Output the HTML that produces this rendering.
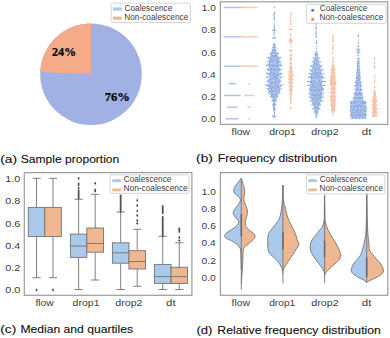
<!DOCTYPE html><html><head><meta charset="utf-8"><style>html,body{margin:0;padding:0;background:#fff;overflow:hidden}svg{display:block}</style></head><body>
<svg width="390" height="338" viewBox="0 0 390 338">
<rect width="390" height="338" fill="#fff"/>
<circle cx="91.0" cy="74.2" r="50.8" fill="#a2b1e4"/>
<path d="M91.0,74.2 L91.0,23.4 A50.8,50.8 0 0 0 40.24,72.07 Z" fill="#f5ab8a"/>
<text x="51.97" y="55.5" font-size="11.91" fill="#000" font-weight="bold" font-family='"Liberation Serif", serif' textLength="24.26" lengthAdjust="spacingAndGlyphs" stroke="#000" stroke-width="0.22">24%</text>
<text x="104.69" y="101.1" font-size="12.06" fill="#000" font-weight="bold" font-family='"Liberation Serif", serif' textLength="25.19" lengthAdjust="spacingAndGlyphs" stroke="#000" stroke-width="0.22">76%</text>
<rect x="111.1" y="3.1" width="79.3" height="19.5" fill="#fff" fill-opacity="0.85" stroke="#cfcfcf" stroke-width="0.9" rx="1.2"/>
<rect x="113.1" y="7.4" width="8.7" height="3.2" fill="#abc9ea"/>
<rect x="113.1" y="16.6" width="8.7" height="3.1" fill="#efb792"/>
<text x="124.49" y="10.6" font-size="8.3" fill="#3c3c3c" font-weight="normal" font-family='"Liberation Sans", sans-serif' textLength="47.86" lengthAdjust="spacingAndGlyphs">Coalescence</text>
<text x="124.21" y="19.5" font-size="8.3" fill="#3c3c3c" font-weight="normal" font-family='"Liberation Sans", sans-serif' textLength="64.15" lengthAdjust="spacingAndGlyphs">Non-coalescence</text>
<text x="0.28" y="162.7" font-size="11.8" fill="#111" font-weight="normal" font-family='"Liberation Sans", sans-serif' textLength="16.77" lengthAdjust="spacingAndGlyphs" stroke="#111" stroke-width="0.12">(a)</text>
<text x="20.84" y="162.7" font-size="11.8" fill="#111" font-weight="normal" font-family='"Liberation Sans", sans-serif' textLength="98.44" lengthAdjust="spacingAndGlyphs" stroke="#111" stroke-width="0.12">Sample proportion</text>
<rect x="220.4" y="1.8" width="167.4" height="122.6" fill="none" stroke="#9c9c9c" stroke-width="1.2"/>
<text x="201.59" y="122.35" font-size="9.47" fill="#3c3c3c" font-weight="normal" font-family='"Liberation Sans", sans-serif' textLength="14.22" lengthAdjust="spacingAndGlyphs">0.0</text>
<text x="201.59" y="100.13" font-size="9.47" fill="#3c3c3c" font-weight="normal" font-family='"Liberation Sans", sans-serif' textLength="14.33" lengthAdjust="spacingAndGlyphs">0.2</text>
<text x="201.59" y="77.91" font-size="9.47" fill="#3c3c3c" font-weight="normal" font-family='"Liberation Sans", sans-serif' textLength="14.11" lengthAdjust="spacingAndGlyphs">0.4</text>
<text x="201.59" y="55.69" font-size="9.47" fill="#3c3c3c" font-weight="normal" font-family='"Liberation Sans", sans-serif' textLength="14.26" lengthAdjust="spacingAndGlyphs">0.6</text>
<text x="201.59" y="33.47" font-size="9.47" fill="#3c3c3c" font-weight="normal" font-family='"Liberation Sans", sans-serif' textLength="14.26" lengthAdjust="spacingAndGlyphs">0.8</text>
<text x="201.72" y="11.25" font-size="9.47" fill="#3c3c3c" font-weight="normal" font-family='"Liberation Sans", sans-serif' textLength="14.08" lengthAdjust="spacingAndGlyphs">1.0</text>
<text x="231.56" y="134.8" font-size="9.68" fill="#3c3c3c" font-weight="normal" font-family='"Liberation Sans", sans-serif' textLength="18.52" lengthAdjust="spacingAndGlyphs">flow</text>
<text x="269.15" y="134.8" font-size="9.68" fill="#3c3c3c" font-weight="normal" font-family='"Liberation Sans", sans-serif' textLength="26.68" lengthAdjust="spacingAndGlyphs">drop1</text>
<text x="311.24" y="134.8" font-size="9.68" fill="#3c3c3c" font-weight="normal" font-family='"Liberation Sans", sans-serif' textLength="27.41" lengthAdjust="spacingAndGlyphs">drop2</text>
<text x="361.8" y="134.8" font-size="9.68" fill="#3c3c3c" font-weight="normal" font-family='"Liberation Sans", sans-serif' textLength="9.58" lengthAdjust="spacingAndGlyphs">dt</text>
<text x="196.14" y="162" font-size="11.8" fill="#111" font-weight="normal" font-family='"Liberation Sans", sans-serif' textLength="16.61" lengthAdjust="spacingAndGlyphs" stroke="#111" stroke-width="0.12">(b)</text>
<text x="217.79" y="162" font-size="11.8" fill="#111" font-weight="normal" font-family='"Liberation Sans", sans-serif' textLength="119.2" lengthAdjust="spacingAndGlyphs" stroke="#111" stroke-width="0.12">Frequency distribution</text>
<rect x="223.6" y="6.8" width="17.4" height="1.4" fill="#4878d0" opacity="0.45"/>
<rect x="241.0" y="6.8" width="16.5" height="1.4" fill="#ee854a" opacity="0.45"/>
<rect x="223.6" y="36.1" width="17.4" height="1.4" fill="#4878d0" opacity="0.45"/>
<rect x="241.0" y="36.1" width="16.5" height="1.4" fill="#ee854a" opacity="0.45"/>
<rect x="223.9" y="65.5" width="16.9" height="1.4" fill="#4878d0" opacity="0.45"/>
<rect x="240.8" y="65.5" width="17" height="1.4" fill="#ee854a" opacity="0.45"/>
<rect x="228.7" y="83" width="7.7" height="1.4" fill="#4878d0" opacity="0.45"/>
<rect x="247.9" y="83" width="2" height="1.4" fill="#ee854a" opacity="0.45"/>
<rect x="223.9" y="94.8" width="16.9" height="1.4" fill="#4878d0" opacity="0.45"/>
<rect x="244.1" y="94.8" width="10.2" height="1.4" fill="#ee854a" opacity="0.45"/>
<rect x="227.3" y="106.5" width="10.4" height="1.4" fill="#4878d0" opacity="0.45"/>
<rect x="247.4" y="106.5" width="3.4" height="1.4" fill="#ee854a" opacity="0.45"/>
<rect x="225.8" y="118.1" width="12.5" height="1.4" fill="#4878d0" opacity="0.45"/>
<rect x="247.9" y="118.1" width="2" height="1.4" fill="#ee854a" opacity="0.45"/>
<path d="M274.35,7.18h0M274.18,12.47h0M274.44,13.27h0M274.05,14.83h0M273.91,15.93h0M274.45,17.56h0M274.38,18.48h0M273.98,19.7h0M274.03,22.89h0M274.48,25.22h0M274.02,26.76h0M274.48,28.04h0M274.12,28.9h0M272.8,30.34h0M274.2,30.43h0M275.6,30.25h0M274.09,31.89h0M274.19,33.12h0M273.91,34.45h0M274.12,36.95h0M272.8,38.1h0M274.2,38.34h0M275.6,38.11h0M274.17,43.41h0M273.41,44.77h0M274.97,44.81h0M273.61,45.88h0M274.86,46.03h0M272.76,47.43h0M274.21,47.24h0M275.56,47.2h0M273.42,48.66h0M275.02,48.5h0M272.22,49.91h0M273.48,49.82h0M274.92,50h0M276.29,49.88h0M272.9,51.06h0M274.2,51.3h0M275.51,51.27h0M271.43,52.59h0M272.71,52.48h0M274.12,52.6h0M275.55,52.49h0M277.12,52.61h0M269.99,53.8h0M271.46,53.79h0M272.75,53.77h0M274.12,53.76h0M275.72,53.94h0M277.03,53.8h0M278.36,53.68h0M271.47,55.21h0M272.77,55.19h0M274.27,55.16h0M275.64,55.18h0M276.97,55.16h0M270.7,56.48h0M272.15,56.34h0M273.61,56.44h0M274.92,56.25h0M276.31,56.33h0M277.74,56.39h0M267.94,57.79h0M269.26,57.74h0M270.76,57.8h0M272.06,57.8h0M273.59,57.76h0M275.01,57.84h0M276.3,57.71h0M277.62,57.8h0M279.2,57.69h0M280.55,57.77h0M269.22,59.08h0M270.72,59.05h0M272.08,59.04h0M273.57,59.04h0M274.95,58.86h0M276.22,58.98h0M277.74,58.92h0M279.14,59.04h0M269.99,60.22h0M271.29,60.19h0M272.76,60.2h0M274.13,60.16h0M275.59,60.26h0M277.03,60.33h0M278.34,60.42h0M267.88,61.53h0M269.28,61.48h0M270.78,61.56h0M271.99,61.63h0M273.4,61.61h0M274.86,61.62h0M276.41,61.7h0M277.68,61.69h0M279.13,61.56h0M280.41,61.63h0M269.41,63.04h0M270.73,62.86h0M272.19,62.75h0M273.41,62.92h0M274.93,62.79h0M276.33,63.02h0M277.67,62.88h0M279.03,62.84h0M267.87,64.34h0M269.4,64.23h0M270.64,64.34h0M272.1,64.17h0M273.46,64.35h0M274.9,64.14h0M276.29,64.09h0M277.73,64.18h0M279.05,64.28h0M280.58,64.05h0M266.45,65.63h0M267.97,65.42h0M269.24,65.4h0M270.82,65.44h0M272.13,65.49h0M273.53,65.53h0M274.96,65.39h0M276.36,65.44h0M277.71,65.45h0M279.05,65.51h0M280.49,65.46h0M281.96,65.53h0M269.94,66.79h0M271.5,66.92h0M272.81,66.65h0M274.27,66.78h0M275.62,66.86h0M277.03,66.79h0M278.5,66.77h0M269.38,68.01h0M270.65,68.2h0M272,68.2h0M273.55,68.08h0M274.85,68.18h0M276.4,67.99h0M277.69,68.11h0M279.1,68.05h0M267.22,69.49h0M268.5,69.32h0M270.08,69.49h0M271.44,69.26h0M272.85,69.54h0M274.32,69.46h0M275.49,69.5h0M276.93,69.44h0M278.51,69.46h0M279.71,69.34h0M281.3,69.29h0M268.58,70.6h0M270.03,70.56h0M271.31,70.66h0M272.7,70.57h0M274.22,70.77h0M275.69,70.59h0M276.98,70.64h0M278.42,70.7h0M279.91,70.66h0M270.05,71.9h0M271.43,72h0M272.9,72.02h0M274.23,71.93h0M275.61,71.93h0M277.06,72.01h0M278.31,71.92h0M266.56,73.2h0M267.95,73.35h0M269.2,73.35h0M270.6,73.19h0M272.12,73.22h0M273.59,73.29h0M274.86,73.39h0M276.19,73.37h0M277.59,73.2h0M279.21,73.35h0M280.43,73.18h0M282.01,73.35h0M267.81,74.64h0M269.27,74.52h0M270.66,74.63h0M272.06,74.57h0M273.41,74.7h0M274.94,74.69h0M276.28,74.71h0M277.7,74.63h0M279.12,74.67h0M280.47,74.48h0M269.93,75.76h0M271.49,75.89h0M272.86,75.75h0M274.19,76.02h0M275.63,75.88h0M276.99,75.78h0M278.32,75.8h0M266.47,77.31h0M267.82,77.13h0M269.25,77.1h0M270.65,77.12h0M272.1,77.06h0M273.6,77.16h0M275.01,77.26h0M276.34,77.19h0M277.81,77.09h0M279.14,77.14h0M280.54,77.27h0M281.82,77.11h0M269.94,78.37h0M271.38,78.64h0M272.77,78.44h0M274.19,78.43h0M275.66,78.57h0M276.92,78.42h0M278.44,78.63h0M268.58,79.94h0M269.88,79.67h0M271.47,79.77h0M272.69,79.81h0M274.32,79.81h0M275.56,79.68h0M276.9,79.92h0M278.4,79.93h0M279.69,79.72h0M267.18,80.97h0M268.54,81.07h0M269.95,80.97h0M271.29,81.24h0M272.72,81.1h0M274.18,81.11h0M275.5,81.04h0M276.91,81.11h0M278.5,81.13h0M279.89,81.01h0M281.08,81.11h0M268.62,82.36h0M270.03,82.47h0M271.5,82.34h0M272.79,82.5h0M274.13,82.28h0M275.55,82.28h0M277.07,82.5h0M278.36,82.29h0M279.7,82.32h0M269.98,83.72h0M271.34,83.57h0M272.85,83.56h0M274.13,83.64h0M275.57,83.58h0M276.98,83.64h0M278.46,83.72h0M265.84,85.08h0M267.22,84.98h0M268.68,85.05h0M270.11,85.07h0M271.45,84.93h0M272.87,84.96h0M274.11,84.87h0M275.52,84.93h0M277.04,84.94h0M278.3,85.08h0M279.81,84.86h0M281.09,84.89h0M282.57,85.11h0M267.93,86.22h0M269.28,86.26h0M270.66,86.15h0M272.12,86.4h0M273.55,86.18h0M274.91,86.2h0M276.35,86.28h0M277.81,86.39h0M279.01,86.25h0M280.6,86.29h0M269.29,87.68h0M270.8,87.61h0M272.21,87.63h0M273.4,87.69h0M274.88,87.47h0M276.41,87.46h0M277.72,87.59h0M279.19,87.57h0M267.15,88.81h0M268.61,88.86h0M270.06,88.82h0M271.36,88.82h0M272.92,89h0M274.28,88.94h0M275.58,88.79h0M277.08,88.9h0M278.29,88.8h0M279.7,88.97h0M281.3,88.81h0M268.56,90.25h0M270.09,90.24h0M271.47,90.16h0M272.68,90.2h0M274.22,90.11h0M275.57,90.15h0M276.89,90.14h0M278.37,90.19h0M279.85,90.17h0M269.38,91.63h0M270.75,91.55h0M272.11,91.59h0M273.47,91.53h0M274.94,91.51h0M276.25,91.37h0M277.6,91.46h0M279.12,91.58h0M268.55,92.93h0M269.95,92.86h0M271.3,92.88h0M272.84,92.94h0M274.3,92.86h0M275.68,92.87h0M277.03,92.71h0M278.4,92.92h0M279.74,92.94h0M270.67,93.95h0M272.07,94h0M273.54,94.22h0M275,94.13h0M276.27,93.98h0M277.75,94.12h0M271.37,95.52h0M272.73,95.34h0M274.14,95.44h0M275.7,95.3h0M277.03,95.48h0M270.6,96.72h0M272.18,96.81h0M273.55,96.68h0M274.88,96.71h0M276.4,96.64h0M277.65,96.73h0M272.02,97.86h0M273.41,98.02h0M274.92,97.91h0M276.23,98.03h0M272.85,99.37h0M274.09,99.3h0M275.68,99.44h0M272.18,100.64h0M273.6,100.52h0M274.95,100.7h0M276.29,100.48h0M273.42,101.78h0M274.82,101.93h0M273.56,103.27h0M274.98,103.29h0M272.9,104.64h0M274.23,104.64h0M275.5,104.38h0M273.43,105.76h0M274.89,105.85h0M273.4,107.07h0M274.91,107.06h0M273.52,108.36h0M274.94,108.4h0M273.61,109.57h0M274.96,109.77h0M274.11,110.99h0M274.45,112.23h0M274.32,113.77h0M274.1,115.11h0M272.8,116.18h0M274.2,116.12h0M275.6,116.25h0M274.06,117.26h0" stroke="#4878d0" stroke-opacity="0.66" stroke-width="1.45" stroke-linecap="round" fill="none"/>
<path d="M291.09,12.62h0M291.06,13.66h0M290.99,14.9h0M290.51,17.65h0M290.73,19.11h0M290.63,20.68h0M290.78,21.45h0M291.07,23.11h0M290.53,24.24h0M291.04,26.99h0M289.4,29.58h0M290.8,29.47h0M292.2,29.61h0M290.95,33.64h0M290.75,34.98h0M290.66,37.28h0M290.57,38.4h0M289.4,39.86h0M290.8,40.02h0M292.2,40.02h0M289.4,41.3h0M290.8,41.34h0M292.2,41.23h0M291.05,42.76h0M290.76,43.66h0M290.59,46.41h0M289.4,50.34h0M290.8,50.26h0M292.2,50.26h0M291.08,51.44h0M290.94,53.98h0M290.15,55.35h0M291.57,55.48h0M290.83,56.89h0M290.8,57.96h0M290.06,59.26h0M291.45,59.39h0M290.9,60.66h0M290.85,62.13h0M290.22,63.24h0M291.42,63.43h0M290.79,64.67h0M290.77,66.03h0M290.11,67.3h0M291.41,67.16h0M290.12,68.41h0M291.49,68.37h0M290.06,69.69h0M291.61,69.73h0M289.47,71.17h0M290.74,71.2h0M292.23,71.07h0M289.34,72.33h0M290.89,72.38h0M292.3,72.3h0M289.99,73.77h0M291.51,73.55h0M288.78,75h0M290.19,74.86h0M291.52,74.89h0M292.95,75.03h0M289.33,76.43h0M290.71,76.17h0M292.24,76.18h0M290.09,77.64h0M291.59,77.67h0M288.73,79h0M290.01,78.98h0M291.44,78.84h0M292.78,78.98h0M289.5,80.19h0M290.72,80.11h0M292.14,80.33h0M290,81.46h0M291.4,81.48h0M288.74,82.7h0M290.01,82.8h0M291.54,82.78h0M292.92,82.92h0M290.04,84.1h0M291.51,84.22h0M290.14,85.38h0M291.57,85.5h0M289.31,86.63h0M290.77,86.82h0M292.14,86.74h0M290.21,87.88h0M291.56,87.95h0M290.13,89.4h0M291.52,89.16h0M289.37,90.64h0M290.85,90.53h0M292.18,90.55h0M290.7,91.97h0M290.19,93.07h0M291.45,93.1h0M290.17,94.62h0M291.5,94.38h0M290.73,95.66h0M290.75,96.98h0M290.2,98.53h0M291.49,98.28h0M290.71,99.71h0M290.83,100.96h0M291.08,102.26h0M291.05,103.53h0M290.99,107.52h0M290.53,109.06h0" stroke="#ee854a" stroke-opacity="0.6" stroke-width="1.45" stroke-linecap="round" fill="none"/>
<path d="M316.27,23.25h0M316.3,24.17h0M316.28,27.06h0M316.08,28.02h0M316.44,29.26h0M316.05,32.07h0M316.1,33.52h0M316.15,34.61h0M316.07,36.16h0M316.38,37.29h0M316.53,40.98h0M316.59,42.28h0M316.44,43.5h0M316.4,46.35h0M316.44,49h0M316.37,51.5h0M315.48,52.99h0M317.07,53h0M314.91,54.19h0M316.21,54.11h0M317.81,54.31h0M315.68,55.55h0M316.97,55.54h0M315.55,56.65h0M317.04,56.82h0M313.5,58.08h0M314.85,58.17h0M316.27,58.13h0M317.76,58.08h0M319.14,57.97h0M314.98,59.29h0M316.19,59.25h0M317.76,59.28h0M314.19,60.79h0M315.59,60.71h0M316.89,60.79h0M318.46,60.74h0M312.13,62.06h0M313.58,62.04h0M314.78,62.12h0M316.42,61.91h0M317.6,61.95h0M319,61.96h0M320.4,61.92h0M314.18,63.24h0M315.65,63.27h0M316.92,63.44h0M318.49,63.36h0M313.48,64.59h0M314.88,64.46h0M316.29,64.68h0M317.75,64.71h0M319.14,64.68h0M310.8,65.99h0M312.08,65.95h0M313.54,66.01h0M314.95,65.88h0M316.23,65.85h0M317.64,65.95h0M319.16,65.81h0M320.51,66h0M321.87,65.78h0M312.07,67.09h0M313.45,67.05h0M314.82,67.18h0M316.21,67.05h0M317.71,67.34h0M319.18,67.15h0M320.6,67.07h0M312.68,68.37h0M314.22,68.58h0M315.59,68.59h0M316.99,68.63h0M318.43,68.51h0M319.72,68.48h0M310.08,69.72h0M311.35,69.89h0M312.7,69.81h0M314.13,69.85h0M315.62,69.68h0M317.06,69.77h0M318.36,69.91h0M319.87,69.74h0M321.24,69.69h0M322.6,69.67h0M311.5,71.14h0M312.69,71.1h0M314.19,71.08h0M315.52,71.03h0M316.99,70.97h0M318.44,71.02h0M319.75,70.98h0M321.15,71.23h0M312,72.35h0M313.61,72.28h0M314.86,72.31h0M316.34,72.39h0M317.6,72.51h0M319.06,72.46h0M320.49,72.51h0M309.23,73.64h0M310.64,73.8h0M312.1,73.65h0M313.5,73.8h0M314.92,73.69h0M316.34,73.73h0M317.68,73.68h0M319.01,73.68h0M320.59,73.64h0M321.87,73.73h0M323.32,73.6h0M311.46,74.86h0M312.71,75.08h0M314.3,74.87h0M315.5,75.04h0M316.95,75.05h0M318.29,74.99h0M319.72,74.95h0M321.25,75h0M310.08,76.34h0M311.48,76.2h0M312.79,76.25h0M314.23,76.18h0M315.69,76.26h0M317.07,76.43h0M318.51,76.27h0M319.89,76.45h0M321.11,76.37h0M322.65,76.29h0M308.52,77.57h0M310.1,77.57h0M311.34,77.64h0M312.78,77.63h0M314.19,77.54h0M315.49,77.7h0M317.04,77.52h0M318.4,77.62h0M319.8,77.72h0M321.27,77.54h0M322.56,77.63h0M323.92,77.73h0M311.4,78.83h0M312.81,78.76h0M314.13,79.05h0M315.67,78.82h0M316.99,78.76h0M318.31,78.81h0M319.92,78.84h0M321.14,78.77h0M311.52,80.27h0M312.9,80.3h0M314.27,80.13h0M315.52,80.13h0M316.9,80.1h0M318.45,80.2h0M319.68,80.14h0M321.28,80.31h0M307.26,81.62h0M308.61,81.46h0M310.02,81.43h0M311.29,81.43h0M312.79,81.39h0M314.1,81.42h0M315.57,81.64h0M317,81.6h0M318.46,81.53h0M319.76,81.47h0M321.16,81.54h0M322.69,81.59h0M323.95,81.39h0M325.28,81.53h0M310.58,82.74h0M312.03,82.71h0M313.54,82.83h0M314.85,82.87h0M316.23,82.93h0M317.61,82.83h0M319.15,82.87h0M320.5,82.91h0M321.93,82.86h0M311.32,84.09h0M312.81,83.98h0M314.26,84.05h0M315.59,84.11h0M317.08,84.04h0M318.41,84.13h0M319.84,84.04h0M321.15,84.09h0M307.93,85.29h0M309.29,85.42h0M310.63,85.28h0M312.2,85.26h0M313.5,85.34h0M314.79,85.33h0M316.22,85.37h0M317.8,85.27h0M319.06,85.46h0M320.53,85.26h0M321.83,85.33h0M323.39,85.38h0M324.64,85.39h0M310.62,86.75h0M312.15,86.69h0M313.51,86.78h0M315.01,86.73h0M316.19,86.7h0M317.74,86.65h0M319.14,86.66h0M320.53,86.73h0M321.94,86.83h0M310.05,88.06h0M311.34,88.03h0M312.83,87.87h0M314.26,87.92h0M315.6,88.01h0M317.05,88.08h0M318.39,88.13h0M319.79,88.02h0M321.32,87.95h0M322.65,88.14h0M309.37,89.35h0M310.71,89.39h0M312.19,89.19h0M313.5,89.33h0M314.95,89.44h0M316.37,89.4h0M317.6,89.28h0M319.2,89.43h0M320.56,89.25h0M321.96,89.31h0M323.34,89.34h0M310.05,90.74h0M311.4,90.6h0M312.84,90.62h0M314.09,90.74h0M315.56,90.6h0M316.89,90.51h0M318.5,90.53h0M319.75,90.69h0M321.14,90.65h0M322.62,90.72h0M311.36,91.83h0M312.77,91.75h0M314.11,91.79h0M315.56,91.98h0M317.11,91.86h0M318.34,91.84h0M319.83,91.89h0M321.11,91.91h0M309.21,93.29h0M310.61,93.18h0M312.16,93.21h0M313.59,93.15h0M315.01,93.06h0M316.39,93.18h0M317.58,93.13h0M319.22,93.26h0M320.56,93.29h0M321.78,93.14h0M323.29,93.32h0M310.62,94.65h0M312.11,94.44h0M313.4,94.48h0M314.9,94.49h0M316.25,94.63h0M317.69,94.44h0M319.17,94.42h0M320.48,94.38h0M321.84,94.65h0M311.41,95.85h0M312.84,95.81h0M314.17,95.69h0M315.49,95.69h0M316.98,95.65h0M318.44,95.75h0M319.74,95.74h0M321.2,95.71h0M309.3,96.97h0M310.6,97.22h0M312.12,97.04h0M313.55,96.96h0M314.99,97.23h0M316.34,96.97h0M317.68,97.2h0M319.12,97.01h0M320.44,96.97h0M321.91,97h0M323.29,97.22h0M311.4,98.49h0M312.71,98.53h0M314.29,98.39h0M315.69,98.34h0M317.12,98.35h0M318.5,98.5h0M319.9,98.47h0M321.1,98.33h0M312.2,99.75h0M313.39,99.65h0M314.86,99.6h0M316.23,99.7h0M317.67,99.63h0M319.08,99.83h0M320.52,99.78h0M309.89,101.11h0M311.3,100.91h0M312.86,101.08h0M314.23,100.99h0M315.65,100.98h0M316.93,100.92h0M318.31,100.86h0M319.91,101.14h0M321.16,100.97h0M322.55,101.08h0M312.72,102.42h0M314.3,102.16h0M315.59,102.22h0M317.03,102.26h0M318.35,102.24h0M319.83,102.3h0M312.84,103.59h0M314.31,103.58h0M315.67,103.73h0M317.03,103.63h0M318.47,103.66h0M319.73,103.58h0M311.99,104.96h0M313.46,104.83h0M314.79,104.76h0M316.34,104.86h0M317.68,104.95h0M319.2,104.96h0M320.43,105.05h0M314.22,106.24h0M315.55,106.32h0M317.03,106.26h0M318.31,106.3h0M314.23,107.57h0M315.56,107.43h0M316.96,107.64h0M318.44,107.49h0M312.84,108.73h0M314.1,108.68h0M315.62,108.83h0M317.11,108.84h0M318.48,108.95h0M319.8,108.78h0M314.87,110.18h0M316.32,109.99h0M317.81,110.11h0M314.91,111.43h0M316.32,111.28h0M317.61,111.47h0M314.81,112.79h0M316.36,112.78h0M317.67,112.59h0M315.53,114.05h0M317.05,113.93h0M316.32,115.39h0M316.14,116.74h0M316.18,117.74h0" stroke="#4878d0" stroke-opacity="0.66" stroke-width="1.45" stroke-linecap="round" fill="none"/>
<path d="M333.09,35.28h0M332.86,36.61h0M332.72,37.6h0M333.11,39.19h0M333.19,40.3h0M333.11,41.66h0M333.21,44.53h0M333.02,45.86h0M333.09,47.19h0M332.77,48.31h0M332.79,49.31h0M332.91,51.95h0M332.82,53.64h0M333.24,57.36h0M333.27,58.65h0M333.08,59.63h0M332.85,61.2h0M333.11,62.39h0M333.01,63.89h0M332.33,65.12h0M333.78,64.98h0M332.39,66.5h0M333.58,66.52h0M332.39,67.76h0M333.67,67.58h0M330.95,68.99h0M332.24,68.96h0M333.8,68.99h0M335.03,69.15h0M331.52,70.21h0M333.06,70.27h0M334.39,70.36h0M332.32,71.51h0M333.63,71.61h0M330.99,72.79h0M332.4,72.83h0M333.66,72.78h0M335.06,73.04h0M331.68,74.34h0M333.05,74.11h0M334.38,74.1h0M331.56,75.4h0M333.04,75.51h0M334.35,75.43h0M330.81,76.78h0M332.2,76.81h0M333.64,76.88h0M335.04,76.91h0M331,78.02h0M332.4,78.09h0M333.79,78.09h0M335.11,78.03h0M330.87,79.52h0M332.35,79.38h0M333.59,79.33h0M335.08,79.36h0M330.08,80.69h0M331.69,80.84h0M333.05,80.76h0M334.42,80.85h0M335.87,80.69h0M331.01,82.02h0M332.32,81.94h0M333.74,82h0M335.21,82.15h0M330.31,83.16h0M331.5,83.25h0M333.08,83.32h0M334.34,83.18h0M335.74,83.19h0M330.26,84.51h0M331.52,84.64h0M332.91,84.7h0M334.44,84.71h0M335.85,84.67h0M331.58,85.86h0M332.97,86.02h0M334.38,85.99h0M331.5,87.11h0M333.02,87.29h0M334.34,87.12h0M330.89,88.48h0M332.4,88.53h0M333.65,88.45h0M335.1,88.4h0M331.5,89.85h0M333.09,89.92h0M334.42,89.77h0M331.61,91h0M333.01,91.1h0M334.33,91.08h0M330.23,92.35h0M331.54,92.44h0M333.01,92.34h0M334.39,92.37h0M335.83,92.51h0M331.61,93.72h0M333.04,93.62h0M334.34,93.83h0M331.64,94.93h0M333,94.99h0M334.34,94.9h0M330.09,96.19h0M331.66,96.26h0M332.93,96.38h0M334.52,96.21h0M335.85,96.27h0M330.92,97.72h0M332.34,97.49h0M333.69,97.66h0M335.02,97.48h0M331,98.95h0M332.2,98.96h0M333.82,98.98h0M335.15,98.88h0M331,100.2h0M332.2,100.09h0M333.81,100.26h0M335.2,100.09h0M331.64,101.48h0M332.99,101.42h0M334.46,101.58h0M331.58,102.8h0M332.97,102.79h0M334.36,102.79h0M330.27,103.99h0M331.64,104.2h0M332.96,104.22h0M334.51,103.97h0M335.83,104.06h0M331.61,105.51h0M333.03,105.52h0M334.34,105.49h0M331.52,106.79h0M333.02,106.62h0M334.49,106.7h0M331.72,107.95h0M333.01,108.01h0M334.35,108.01h0M331.65,109.23h0M333.04,109.33h0M334.37,109.35h0M332.37,110.57h0M333.78,110.54h0M332.26,111.79h0M333.79,112.05h0M332.94,113.31h0M333,115.58h0" stroke="#ee854a" stroke-opacity="0.6" stroke-width="1.45" stroke-linecap="round" fill="none"/>
<path d="M358.24,34.77h0M358.36,36.18h0M358.46,40.1h0M358.45,42.92h0M358.22,45.68h0M358.19,46.66h0M356.9,49.16h0M358.3,49.25h0M359.7,49.37h0M358.31,50.52h0M356.9,52.04h0M358.3,51.97h0M359.7,51.78h0M358.3,53.35h0M358.12,55.58h0M357.55,58.37h0M359.06,58.34h0M358.42,59.59h0M357.69,61.15h0M358.94,60.91h0M357.52,62.43h0M359.02,62.4h0M357.6,63.74h0M358.91,63.52h0M357.62,64.98h0M359.12,64.98h0M357.66,66.21h0M358.93,66.15h0M357.61,67.36h0M359.03,67.65h0M357.6,68.79h0M359.03,68.83h0M357,70.22h0M358.37,70.17h0M359.75,70.01h0M357.54,71.31h0M359.11,71.32h0M356.98,72.67h0M358.19,72.6h0M359.73,72.76h0M356.92,73.9h0M358.34,74.08h0M359.77,74.02h0M356.78,75.23h0M358.28,75.17h0M359.6,75.44h0M356.91,76.66h0M358.39,76.64h0M359.68,76.57h0M356.31,77.8h0M357.68,77.94h0M358.96,77.96h0M360.35,77.97h0M356.92,79.07h0M358.4,79.34h0M359.76,79.14h0M356.81,80.51h0M358.26,80.49h0M359.65,80.37h0M355.44,81.7h0M356.86,81.69h0M358.19,81.94h0M359.59,81.92h0M361.08,81.69h0M356.2,82.97h0M357.61,82.95h0M358.95,83.16h0M360.48,83h0M356.31,84.34h0M357.51,84.32h0M359.09,84.35h0M360.44,84.53h0M354.73,85.69h0M356.16,85.69h0M357.63,85.84h0M359.05,85.7h0M360.47,85.7h0M361.73,85.75h0M356.13,86.97h0M357.6,86.86h0M358.97,87.14h0M360.4,86.96h0M356.25,88.3h0M357.58,88.32h0M358.95,88.35h0M360.38,88.36h0M354.83,89.51h0M356.2,89.6h0M357.48,89.49h0M358.99,89.68h0M360.47,89.7h0M361.87,89.74h0M356.12,90.79h0M357.67,90.81h0M358.96,90.79h0M360.5,90.81h0M355.52,92.26h0M356.79,92.22h0M358.31,92.22h0M359.7,92.29h0M361.18,92.31h0M353.99,93.49h0M355.39,93.54h0M356.9,93.57h0M358.38,93.57h0M359.75,93.45h0M361.15,93.54h0M362.43,93.61h0M354.81,94.71h0M356.28,94.79h0M357.66,94.9h0M359,94.83h0M360.39,94.72h0M361.87,94.93h0M355.39,96.09h0M356.8,96.08h0M358.26,96.02h0M359.77,96.12h0M361.2,96.01h0M353.43,97.48h0M354.78,97.31h0M356.17,97.42h0M357.71,97.45h0M359.08,97.5h0M360.38,97.4h0M361.88,97.47h0M363.18,97.31h0M354.05,98.63h0M355.44,98.76h0M356.94,98.83h0M358.32,98.7h0M359.79,98.59h0M361.12,98.85h0M362.46,98.6h0M353.99,100.07h0M355.48,100.1h0M356.98,99.86h0M358.25,99.93h0M359.64,99.86h0M361.04,99.95h0M362.49,100.01h0M351.21,101.19h0M352.8,101.24h0M354.11,101.24h0M355.59,101.43h0M356.92,101.18h0M358.27,101.36h0M359.72,101.23h0M361.08,101.17h0M362.48,101.4h0M363.87,101.29h0M365.22,101.36h0M350.57,102.68h0M351.95,102.47h0M353.43,102.67h0M354.69,102.55h0M356.29,102.6h0M357.58,102.49h0M358.95,102.63h0M360.5,102.65h0M361.91,102.57h0M363.1,102.55h0M364.57,102.47h0M365.9,102.72h0M351.21,103.77h0M352.82,103.8h0M354.05,103.82h0M355.43,103.76h0M356.89,103.98h0M358.2,103.9h0M359.61,103.99h0M361.2,104.01h0M362.51,103.79h0M363.95,103.77h0M365.37,103.84h0M351.25,105.27h0M352.7,105.12h0M354.1,105.18h0M355.42,105.21h0M356.91,105.26h0M358.26,105.23h0M359.63,105.21h0M361.04,105.29h0M362.43,105.14h0M363.8,105.14h0M365.31,105.12h0M350.69,106.44h0M351.93,106.47h0M353.48,106.57h0M354.9,106.51h0M356.16,106.5h0M357.49,106.55h0M359.08,106.62h0M360.48,106.54h0M361.87,106.44h0M363.21,106.4h0M364.7,106.5h0M365.92,106.65h0M350.53,107.9h0M352.03,107.84h0M353.49,107.74h0M354.75,107.82h0M356.13,107.86h0M357.59,107.71h0M358.91,107.7h0M360.42,107.92h0M361.87,107.9h0M363.22,107.89h0M364.56,107.76h0M366.1,107.73h0M350.62,108.97h0M352.02,109.19h0M353.49,109.08h0M354.9,108.96h0M356.3,109.15h0M357.67,109.08h0M359.02,109.2h0M360.33,109.01h0M361.86,109.21h0M363.13,109.11h0M364.6,109.04h0M366.08,109.03h0M350.58,110.29h0M352.11,110.29h0M353.3,110.26h0M354.76,110.26h0M356.12,110.53h0M357.54,110.46h0M358.93,110.25h0M360.28,110.29h0M361.91,110.39h0M363.14,110.26h0M364.63,110.34h0M365.92,110.38h0M350.56,111.72h0M351.93,111.72h0M353.29,111.83h0M354.9,111.72h0M356.19,111.67h0M357.66,111.72h0M359.05,111.68h0M360.38,111.77h0M361.72,111.65h0M363.14,111.61h0M364.69,111.64h0M366.06,111.56h0M351.29,113.07h0M352.61,113.03h0M354.17,112.94h0M355.4,112.96h0M356.96,113.08h0M358.2,112.95h0M359.8,112.94h0M361,113.11h0M362.58,112.98h0M363.95,113.08h0M365.38,112.91h0M350.7,114.39h0M352.01,114.27h0M353.52,114.45h0M354.87,114.3h0M356.29,114.41h0M357.6,114.19h0M359.03,114.19h0M360.36,114.32h0M361.8,114.34h0M363.28,114.43h0M364.55,114.44h0M365.96,114.25h0M350.71,115.6h0M352.07,115.7h0M353.36,115.64h0M354.91,115.46h0M356.11,115.71h0M357.62,115.58h0M359.07,115.58h0M360.31,115.56h0M361.86,115.64h0M363.2,115.45h0M364.72,115.47h0M365.95,115.69h0M351.35,116.86h0M352.76,116.95h0M354.12,116.99h0M355.51,116.91h0M356.84,116.98h0M358.21,116.78h0M359.73,116.76h0M361.19,116.81h0M362.49,116.83h0M363.9,116.93h0M365.23,116.91h0M351.22,118.12h0M352.63,118.08h0M353.98,118.34h0M355.61,118.06h0M356.98,118.22h0M358.23,118.31h0M359.61,118.24h0M361.14,118.26h0M362.44,118.09h0M363.93,118.14h0M365.33,118.27h0" stroke="#4878d0" stroke-opacity="0.66" stroke-width="1.45" stroke-linecap="round" fill="none"/>
<path d="M374.74,58.29h0M374.64,59.2h0M374.36,61.9h0M374.64,63.02h0M374.53,65.95h0M374.85,67.3h0M374.57,68.12h0M374.82,75.11h0M374.61,77.22h0M374.65,80.16h0M374.48,81.11h0M374.73,82.82h0M374.72,86.77h0M374.67,87.79h0M374.34,90.74h0M374.71,91.75h0M374.02,92.98h0M375.2,93.15h0M373.79,94.5h0M375.34,94.39h0M373.9,95.7h0M375.23,95.82h0M373.12,97.04h0M374.62,97.13h0M376.12,97.12h0M373.88,98.2h0M375.36,98.17h0M373.23,99.64h0M374.71,99.71h0M376.06,99.64h0M372.5,100.76h0M373.83,100.96h0M375.28,100.89h0M376.78,100.87h0M373.27,102.3h0M374.54,102.23h0M375.99,102.23h0M373.83,103.42h0M375.37,103.58h0M372.53,104.78h0M373.91,104.73h0M375.26,104.94h0M376.79,104.69h0M373.29,106.08h0M374.63,106.13h0M376.03,106.22h0M373.29,107.33h0M374.5,107.34h0M376,107.49h0M371.91,108.61h0M373.17,108.72h0M374.62,108.76h0M376,108.58h0M377.47,108.79h0M373.28,109.85h0M374.64,110.04h0M375.95,109.88h0M373.23,111.31h0M374.68,111.2h0M376.03,111.24h0M372.42,112.48h0M373.82,112.46h0M375.41,112.56h0M376.76,112.58h0M373.14,114.03h0M374.53,114.04h0M376.07,114.01h0M373.32,115.25h0M374.62,115.22h0M375.99,115.34h0M372.61,116.39h0M373.91,116.56h0M375.22,116.62h0M376.76,116.39h0" stroke="#ee854a" stroke-opacity="0.6" stroke-width="1.45" stroke-linecap="round" fill="none"/>
<rect x="306.3" y="4.3" width="79.7" height="19" fill="#fff" fill-opacity="0.85" stroke="#cfcfcf" stroke-width="0.9" rx="1.2"/>
<circle cx="312.7" cy="10.3" r="1.5" fill="#4878d0"/>
<circle cx="312.7" cy="19.3" r="1.5" fill="#ee854a"/>
<text x="319.79" y="11.3" font-size="8.3" fill="#3c3c3c" font-weight="normal" font-family='"Liberation Sans", sans-serif' textLength="47.55" lengthAdjust="spacingAndGlyphs">Coalescence</text>
<text x="319.51" y="20.3" font-size="8.3" fill="#3c3c3c" font-weight="normal" font-family='"Liberation Sans", sans-serif' textLength="63.95" lengthAdjust="spacingAndGlyphs">Non-coalescence</text>
<rect x="24.3" y="172.6" width="167.6" height="122.7" fill="none" stroke="#9c9c9c" stroke-width="1.2"/>
<text x="5.27" y="293.05" font-size="9.47" fill="#3c3c3c" font-weight="normal" font-family='"Liberation Sans", sans-serif' textLength="15.07" lengthAdjust="spacingAndGlyphs">0.0</text>
<text x="5.26" y="270.87" font-size="9.47" fill="#3c3c3c" font-weight="normal" font-family='"Liberation Sans", sans-serif' textLength="15.18" lengthAdjust="spacingAndGlyphs">0.2</text>
<text x="5.27" y="248.69" font-size="9.47" fill="#3c3c3c" font-weight="normal" font-family='"Liberation Sans", sans-serif' textLength="14.95" lengthAdjust="spacingAndGlyphs">0.4</text>
<text x="5.27" y="226.51" font-size="9.47" fill="#3c3c3c" font-weight="normal" font-family='"Liberation Sans", sans-serif' textLength="15.11" lengthAdjust="spacingAndGlyphs">0.6</text>
<text x="5.27" y="204.33" font-size="9.47" fill="#3c3c3c" font-weight="normal" font-family='"Liberation Sans", sans-serif' textLength="15.11" lengthAdjust="spacingAndGlyphs">0.8</text>
<text x="5.38" y="182.15" font-size="9.47" fill="#3c3c3c" font-weight="normal" font-family='"Liberation Sans", sans-serif' textLength="14.96" lengthAdjust="spacingAndGlyphs">1.0</text>
<text x="35.46" y="305.6" font-size="9.68" fill="#3c3c3c" font-weight="normal" font-family='"Liberation Sans", sans-serif' textLength="18.32" lengthAdjust="spacingAndGlyphs">flow</text>
<text x="72.64" y="305.6" font-size="9.68" fill="#3c3c3c" font-weight="normal" font-family='"Liberation Sans", sans-serif' textLength="26.89" lengthAdjust="spacingAndGlyphs">drop1</text>
<text x="115.24" y="305.6" font-size="9.68" fill="#3c3c3c" font-weight="normal" font-family='"Liberation Sans", sans-serif' textLength="27.31" lengthAdjust="spacingAndGlyphs">drop2</text>
<text x="166" y="305.6" font-size="9.68" fill="#3c3c3c" font-weight="normal" font-family='"Liberation Sans", sans-serif' textLength="9.58" lengthAdjust="spacingAndGlyphs">dt</text>
<text x="0.34" y="333.4" font-size="11.8" fill="#111" font-weight="normal" font-family='"Liberation Sans", sans-serif' textLength="15.92" lengthAdjust="spacingAndGlyphs" stroke="#111" stroke-width="0.12">(c)</text>
<text x="20.49" y="333.4" font-size="11.8" fill="#111" font-weight="normal" font-family='"Liberation Sans", sans-serif' textLength="112.56" lengthAdjust="spacingAndGlyphs" stroke="#111" stroke-width="0.12">Median and quartiles</text>
<line x1="36.52" y1="178.3" x2="36.52" y2="207.4" stroke="#737373" stroke-width="0.9"/>
<line x1="36.52" y1="236.6" x2="36.52" y2="277.7" stroke="#737373" stroke-width="0.9"/>
<line x1="32.41" y1="178.3" x2="40.64" y2="178.3" stroke="#737373" stroke-width="0.9"/>
<line x1="32.41" y1="277.7" x2="40.64" y2="277.7" stroke="#737373" stroke-width="0.9"/>
<rect x="28.3" y="207.4" width="16.45" height="29.2" fill="#abc9ea" stroke="#737373" stroke-width="0.9"/>
<path d="M36.52,288.3 L37.62,289.9 L36.52,291.5 L35.42,289.9 Z" fill="#4a4a4a"/>
<line x1="53.02" y1="178.3" x2="53.02" y2="207.4" stroke="#737373" stroke-width="0.9"/>
<line x1="53.02" y1="236.6" x2="53.02" y2="277.7" stroke="#737373" stroke-width="0.9"/>
<line x1="48.89" y1="178.3" x2="57.16" y2="178.3" stroke="#737373" stroke-width="0.9"/>
<line x1="48.89" y1="277.7" x2="57.16" y2="277.7" stroke="#737373" stroke-width="0.9"/>
<rect x="44.75" y="207.4" width="16.55" height="29.2" fill="#efb792" stroke="#737373" stroke-width="0.9"/>
<path d="M53.02,288.3 L54.12,289.9 L53.02,291.5 L51.92,289.9 Z" fill="#4a4a4a"/>
<line x1="78.62" y1="199.3" x2="78.62" y2="234.1" stroke="#737373" stroke-width="0.9"/>
<line x1="78.62" y1="257.4" x2="78.62" y2="289.5" stroke="#737373" stroke-width="0.9"/>
<line x1="74.51" y1="199.3" x2="82.74" y2="199.3" stroke="#737373" stroke-width="0.9"/>
<line x1="74.51" y1="289.5" x2="82.74" y2="289.5" stroke="#737373" stroke-width="0.9"/>
<rect x="70.4" y="234.1" width="16.45" height="23.3" fill="#abc9ea" stroke="#737373" stroke-width="0.9"/>
<line x1="70.4" y1="246" x2="86.85" y2="246" stroke="#737373" stroke-width="0.9"/>
<path d="M78.62,176.8 L79.72,178.4 L78.62,180 L77.53,178.4 Z" fill="#4a4a4a"/>
<rect x="77.72" y="182.5" width="1.8" height="3.6" rx="0.9" fill="#555"/>
<path d="M78.62,186.3 L79.72,187.9 L78.62,189.5 L77.53,187.9 Z" fill="#4a4a4a"/>
<rect x="77.72" y="189.2" width="1.8" height="10.3" rx="0.9" fill="#555"/>
<line x1="95.17" y1="194.3" x2="95.17" y2="228" stroke="#737373" stroke-width="0.9"/>
<line x1="95.17" y1="252.2" x2="95.17" y2="280" stroke="#737373" stroke-width="0.9"/>
<line x1="91.01" y1="194.3" x2="99.34" y2="194.3" stroke="#737373" stroke-width="0.9"/>
<line x1="91.01" y1="280" x2="99.34" y2="280" stroke="#737373" stroke-width="0.9"/>
<rect x="86.85" y="228" width="16.65" height="24.2" fill="#efb792" stroke="#737373" stroke-width="0.9"/>
<line x1="86.85" y1="243.5" x2="103.5" y2="243.5" stroke="#737373" stroke-width="0.9"/>
<path d="M95.17,181.7 L96.27,183.3 L95.17,184.9 L94.08,183.3 Z" fill="#4a4a4a"/>
<rect x="94.27" y="188.6" width="1.8" height="3.7" rx="0.9" fill="#555"/>
<line x1="120.67" y1="212" x2="120.67" y2="242.8" stroke="#737373" stroke-width="0.9"/>
<line x1="120.67" y1="263.2" x2="120.67" y2="289.5" stroke="#737373" stroke-width="0.9"/>
<line x1="116.54" y1="212" x2="124.81" y2="212" stroke="#737373" stroke-width="0.9"/>
<line x1="116.54" y1="289.5" x2="124.81" y2="289.5" stroke="#737373" stroke-width="0.9"/>
<rect x="112.4" y="242.8" width="16.55" height="20.4" fill="#abc9ea" stroke="#737373" stroke-width="0.9"/>
<line x1="112.4" y1="252.8" x2="128.95" y2="252.8" stroke="#737373" stroke-width="0.9"/>
<rect x="119.77" y="194.4" width="1.8" height="18.4" rx="0.9" fill="#555"/>
<line x1="137.22" y1="229.3" x2="137.22" y2="250.7" stroke="#737373" stroke-width="0.9"/>
<line x1="137.22" y1="269" x2="137.22" y2="286.3" stroke="#737373" stroke-width="0.9"/>
<line x1="133.09" y1="229.3" x2="141.36" y2="229.3" stroke="#737373" stroke-width="0.9"/>
<line x1="133.09" y1="286.3" x2="141.36" y2="286.3" stroke="#737373" stroke-width="0.9"/>
<rect x="128.95" y="250.7" width="16.55" height="18.3" fill="#efb792" stroke="#737373" stroke-width="0.9"/>
<line x1="128.95" y1="261.5" x2="145.5" y2="261.5" stroke="#737373" stroke-width="0.9"/>
<path d="M137.22,198.7 L138.32,200.3 L137.22,201.9 L136.12,200.3 Z" fill="#4a4a4a"/>
<path d="M137.22,204 L138.32,205.6 L137.22,207.2 L136.12,205.6 Z" fill="#4a4a4a"/>
<path d="M137.22,209.4 L138.32,211 L137.22,212.6 L136.12,211 Z" fill="#4a4a4a"/>
<path d="M137.22,214 L138.32,215.6 L137.22,217.2 L136.12,215.6 Z" fill="#4a4a4a"/>
<path d="M137.22,219 L138.32,220.6 L137.22,222.2 L136.12,220.6 Z" fill="#4a4a4a"/>
<path d="M137.22,221.8 L138.32,223.4 L137.22,225 L136.12,223.4 Z" fill="#4a4a4a"/>
<line x1="162.73" y1="236.3" x2="162.73" y2="264.4" stroke="#737373" stroke-width="0.9"/>
<line x1="162.73" y1="283.4" x2="162.73" y2="289.5" stroke="#737373" stroke-width="0.9"/>
<line x1="158.56" y1="236.3" x2="166.89" y2="236.3" stroke="#737373" stroke-width="0.9"/>
<line x1="158.56" y1="289.5" x2="166.89" y2="289.5" stroke="#737373" stroke-width="0.9"/>
<rect x="154.4" y="264.4" width="16.65" height="19" fill="#abc9ea" stroke="#737373" stroke-width="0.9"/>
<line x1="154.4" y1="276.6" x2="171.05" y2="276.6" stroke="#737373" stroke-width="0.9"/>
<rect x="161.83" y="205" width="1.8" height="9.2" rx="0.9" fill="#555"/>
<rect x="161.83" y="215.9" width="1.8" height="21.2" rx="0.9" fill="#555"/>
<line x1="179.28" y1="242.8" x2="179.28" y2="267.3" stroke="#737373" stroke-width="0.9"/>
<line x1="179.28" y1="283.4" x2="179.28" y2="289.5" stroke="#737373" stroke-width="0.9"/>
<line x1="175.16" y1="242.8" x2="183.39" y2="242.8" stroke="#737373" stroke-width="0.9"/>
<line x1="175.16" y1="289.5" x2="183.39" y2="289.5" stroke="#737373" stroke-width="0.9"/>
<rect x="171.05" y="267.3" width="16.45" height="16.1" fill="#efb792" stroke="#737373" stroke-width="0.9"/>
<line x1="171.05" y1="276.6" x2="187.5" y2="276.6" stroke="#737373" stroke-width="0.9"/>
<rect x="178.38" y="227.4" width="1.8" height="5.4" rx="0.9" fill="#555"/>
<path d="M179.28,235.8 L180.38,237.4 L179.28,239 L178.18,237.4 Z" fill="#4a4a4a"/>
<path d="M179.28,239 L180.38,240.6 L179.28,242.2 L178.18,240.6 Z" fill="#4a4a4a"/>
<rect x="110" y="174.8" width="78.9" height="18.5" fill="#fff" fill-opacity="0.85" stroke="#cfcfcf" stroke-width="0.9" rx="1.2"/>
<rect x="112.3" y="179.2" width="8.5" height="2.9" fill="#abc9ea"/>
<rect x="112.3" y="188.5" width="8.5" height="2.8" fill="#efb792"/>
<text x="123.79" y="181.8" font-size="8.3" fill="#3c3c3c" font-weight="normal" font-family='"Liberation Sans", sans-serif' textLength="47.55" lengthAdjust="spacingAndGlyphs">Coalescence</text>
<text x="123.51" y="191" font-size="8.3" fill="#3c3c3c" font-weight="normal" font-family='"Liberation Sans", sans-serif' textLength="64.25" lengthAdjust="spacingAndGlyphs">Non-coalescence</text>
<rect x="220.4" y="172.6" width="167.4" height="122.7" fill="none" stroke="#9c9c9c" stroke-width="1.2"/>
<text x="201.59" y="280.65" font-size="9.47" fill="#3c3c3c" font-weight="normal" font-family='"Liberation Sans", sans-serif' textLength="14.22" lengthAdjust="spacingAndGlyphs">0.0</text>
<text x="201.59" y="263.55" font-size="9.47" fill="#3c3c3c" font-weight="normal" font-family='"Liberation Sans", sans-serif' textLength="14.33" lengthAdjust="spacingAndGlyphs">0.2</text>
<text x="201.59" y="246.45" font-size="9.47" fill="#3c3c3c" font-weight="normal" font-family='"Liberation Sans", sans-serif' textLength="14.11" lengthAdjust="spacingAndGlyphs">0.4</text>
<text x="201.59" y="229.35" font-size="9.47" fill="#3c3c3c" font-weight="normal" font-family='"Liberation Sans", sans-serif' textLength="14.26" lengthAdjust="spacingAndGlyphs">0.6</text>
<text x="201.59" y="212.25" font-size="9.47" fill="#3c3c3c" font-weight="normal" font-family='"Liberation Sans", sans-serif' textLength="14.26" lengthAdjust="spacingAndGlyphs">0.8</text>
<text x="201.72" y="195.15" font-size="9.47" fill="#3c3c3c" font-weight="normal" font-family='"Liberation Sans", sans-serif' textLength="14.08" lengthAdjust="spacingAndGlyphs">1.0</text>
<text x="231.56" y="305.9" font-size="9.68" fill="#3c3c3c" font-weight="normal" font-family='"Liberation Sans", sans-serif' textLength="18.42" lengthAdjust="spacingAndGlyphs">flow</text>
<text x="269.16" y="305.9" font-size="9.68" fill="#3c3c3c" font-weight="normal" font-family='"Liberation Sans", sans-serif' textLength="26.16" lengthAdjust="spacingAndGlyphs">drop1</text>
<text x="311.24" y="305.9" font-size="9.68" fill="#3c3c3c" font-weight="normal" font-family='"Liberation Sans", sans-serif' textLength="27.41" lengthAdjust="spacingAndGlyphs">drop2</text>
<text x="361.8" y="305.9" font-size="9.68" fill="#3c3c3c" font-weight="normal" font-family='"Liberation Sans", sans-serif' textLength="9.58" lengthAdjust="spacingAndGlyphs">dt</text>
<text x="196.47" y="333.7" font-size="11.8" fill="#111" font-weight="normal" font-family='"Liberation Sans", sans-serif' textLength="15.94" lengthAdjust="spacingAndGlyphs" stroke="#111" stroke-width="0.12">(d)</text>
<text x="217.38" y="333.7" font-size="11.8" fill="#111" font-weight="normal" font-family='"Liberation Sans", sans-serif' textLength="163.42" lengthAdjust="spacingAndGlyphs" stroke="#111" stroke-width="0.12">Relative frequency distribution</text>
<path d="M241.3,178.3 C240,180.33 233.65,186.87 233.5,190.5 C233.35,194.13 240.45,196.4 240.4,200.1 C240.35,203.8 233.52,208.8 233.2,212.7 C232.88,216.6 239.93,219.7 238.5,223.5 C237.07,227.3 225.32,232.38 224.6,235.5 C223.88,238.62 231.62,240.1 234.2,242.2 C236.78,244.3 238.98,245.63 240.1,248.1 C241.22,250.57 240.7,253.35 240.9,257 C241.1,260.65 241.23,267.83 241.3,270 L241.3,270 Z" fill="#abc9ea"/>
<path d="M241.3,178.3 C241.85,180.33 244.18,186.87 244.6,190.5 C245.02,194.13 243.32,196.65 243.8,200.1 C244.28,203.55 247.22,206.97 247.5,211.2 C247.78,215.43 244.25,221.45 245.5,225.5 C246.75,229.55 254.17,232.72 255,235.5 C255.83,238.28 252.37,240.1 250.5,242.2 C248.63,244.3 245.05,245.47 243.8,248.1 C242.55,250.73 243.25,254.35 243,258 C242.75,261.65 242.58,265.83 242.3,270 C242.02,274.17 241.47,280.83 241.3,283 L241.3,283 Z" fill="#efb792"/>
<path d="M241.3,178.3 C240,180.33 233.65,186.87 233.5,190.5 C233.35,194.13 240.45,196.4 240.4,200.1 C240.35,203.8 233.52,208.8 233.2,212.7 C232.88,216.6 239.93,219.7 238.5,223.5 C237.07,227.3 225.32,232.38 224.6,235.5 C223.88,238.62 231.62,240.1 234.2,242.2 C236.78,244.3 238.98,245.63 240.1,248.1 C241.22,250.57 240.7,253.35 240.9,257 C241.1,260.65 241.23,267.83 241.3,270 M241.3,178.3 C241.85,180.33 244.18,186.87 244.6,190.5 C245.02,194.13 243.32,196.65 243.8,200.1 C244.28,203.55 247.22,206.97 247.5,211.2 C247.78,215.43 244.25,221.45 245.5,225.5 C246.75,229.55 254.17,232.72 255,235.5 C255.83,238.28 252.37,240.1 250.5,242.2 C248.63,244.3 245.05,245.47 243.8,248.1 C242.55,250.73 243.25,254.35 243,258 C242.75,261.65 242.58,265.83 242.3,270 C242.02,274.17 241.47,280.83 241.3,283" fill="none" stroke="#737373" stroke-width="0.9" stroke-linejoin="round"/>
<line x1="241.3" y1="178.3" x2="241.3" y2="289.7" stroke="#737373" stroke-width="0.9"/>
<line x1="241.3" y1="214" x2="241.3" y2="236.3" stroke="#6a6a6a" stroke-width="1.6"/>
<path d="M282.9,185 C282.83,187.13 282.68,194.17 282.5,197.8 C282.32,201.43 282.08,204.3 281.8,206.8 C281.52,209.3 281.2,210.82 280.8,212.8 C280.4,214.78 280.3,216.73 279.4,218.7 C278.5,220.67 276.87,222.63 275.4,224.6 C273.93,226.57 271.75,228.93 270.6,230.5 C269.45,232.07 268.97,232.78 268.5,234 C268.03,235.22 267.92,235.78 267.8,237.8 C267.68,239.82 267.63,243.68 267.8,246.1 C267.97,248.52 267.95,250.57 268.8,252.3 C269.65,254.03 271.52,255.12 272.9,256.5 C274.28,257.88 275.9,259.22 277.1,260.6 C278.3,261.98 279.2,263.23 280.1,264.8 C281,266.37 282.03,268.47 282.5,270 C282.97,271.53 282.83,273.33 282.9,274 L282.9,274 Z" fill="#abc9ea"/>
<path d="M282.9,185 C283.02,187.65 283.22,197.27 283.6,200.9 C283.98,204.53 284.73,204.82 285.2,206.8 C285.67,208.78 285.9,210.82 286.4,212.8 C286.9,214.78 287.43,216.73 288.2,218.7 C288.97,220.67 290.03,222.63 291,224.6 C291.97,226.57 293.25,228.93 294,230.5 C294.75,232.07 294.97,232.43 295.5,234 C296.03,235.57 296.68,238.4 297.2,239.9 C297.72,241.4 298.37,242.07 298.6,243 C298.83,243.93 299,244.5 298.6,245.5 C298.2,246.5 297.15,247.52 296.2,249 C295.25,250.48 294.15,252.47 292.9,254.4 C291.65,256.33 290.07,258.52 288.7,260.6 C287.33,262.68 285.67,265.17 284.7,266.9 C283.73,268.63 283.2,270.32 282.9,271 L282.9,271 Z" fill="#efb792"/>
<path d="M282.9,185 C282.83,187.13 282.68,194.17 282.5,197.8 C282.32,201.43 282.08,204.3 281.8,206.8 C281.52,209.3 281.2,210.82 280.8,212.8 C280.4,214.78 280.3,216.73 279.4,218.7 C278.5,220.67 276.87,222.63 275.4,224.6 C273.93,226.57 271.75,228.93 270.6,230.5 C269.45,232.07 268.97,232.78 268.5,234 C268.03,235.22 267.92,235.78 267.8,237.8 C267.68,239.82 267.63,243.68 267.8,246.1 C267.97,248.52 267.95,250.57 268.8,252.3 C269.65,254.03 271.52,255.12 272.9,256.5 C274.28,257.88 275.9,259.22 277.1,260.6 C278.3,261.98 279.2,263.23 280.1,264.8 C281,266.37 282.03,268.47 282.5,270 C282.97,271.53 282.83,273.33 282.9,274 M282.9,185 C283.02,187.65 283.22,197.27 283.6,200.9 C283.98,204.53 284.73,204.82 285.2,206.8 C285.67,208.78 285.9,210.82 286.4,212.8 C286.9,214.78 287.43,216.73 288.2,218.7 C288.97,220.67 290.03,222.63 291,224.6 C291.97,226.57 293.25,228.93 294,230.5 C294.75,232.07 294.97,232.43 295.5,234 C296.03,235.57 296.68,238.4 297.2,239.9 C297.72,241.4 298.37,242.07 298.6,243 C298.83,243.93 299,244.5 298.6,245.5 C298.2,246.5 297.15,247.52 296.2,249 C295.25,250.48 294.15,252.47 292.9,254.4 C291.65,256.33 290.07,258.52 288.7,260.6 C287.33,262.68 285.67,265.17 284.7,266.9 C283.73,268.63 283.2,270.32 282.9,271" fill="none" stroke="#737373" stroke-width="0.9" stroke-linejoin="round"/>
<line x1="282.9" y1="185" x2="282.9" y2="283.5" stroke="#737373" stroke-width="0.9"/>
<line x1="282.9" y1="232.6" x2="282.9" y2="249.2" stroke="#6a6a6a" stroke-width="1.6"/>
<path d="M324.6,195.3 C324.55,198.58 324.38,210.88 324.3,215 C324.22,219.12 324.37,218.13 324.1,220 C323.83,221.87 323.75,224.13 322.7,226.2 C321.65,228.27 319.65,229.98 317.8,232.4 C315.95,234.82 312.87,238.27 311.6,240.7 C310.33,243.13 310.2,244.92 310.2,247 C310.2,249.08 310.68,251.13 311.6,253.2 C312.52,255.27 314.23,257.33 315.7,259.4 C317.17,261.47 319.07,263.7 320.4,265.6 C321.73,267.5 323,269.4 323.7,270.8 C324.4,272.2 324.45,273.47 324.6,274 L324.6,274 Z" fill="#abc9ea"/>
<path d="M324.6,195.3 C324.65,198.58 324.82,210.88 324.9,215 C324.98,219.12 324.83,218.13 325.1,220 C325.37,221.87 325.62,223.78 326.5,226.2 C327.38,228.62 328.88,231.73 330.4,234.5 C331.92,237.27 334.05,240.03 335.6,242.8 C337.15,245.57 338.85,248.85 339.7,251.1 C340.55,253.35 341.05,254.57 340.7,256.3 C340.35,258.03 339.3,259.6 337.6,261.5 C335.9,263.4 332.5,265.8 330.5,267.7 C328.5,269.6 326.58,271.52 325.6,272.9 C324.62,274.28 324.77,275.48 324.6,276 L324.6,276 Z" fill="#efb792"/>
<path d="M324.6,195.3 C324.55,198.58 324.38,210.88 324.3,215 C324.22,219.12 324.37,218.13 324.1,220 C323.83,221.87 323.75,224.13 322.7,226.2 C321.65,228.27 319.65,229.98 317.8,232.4 C315.95,234.82 312.87,238.27 311.6,240.7 C310.33,243.13 310.2,244.92 310.2,247 C310.2,249.08 310.68,251.13 311.6,253.2 C312.52,255.27 314.23,257.33 315.7,259.4 C317.17,261.47 319.07,263.7 320.4,265.6 C321.73,267.5 323,269.4 323.7,270.8 C324.4,272.2 324.45,273.47 324.6,274 M324.6,195.3 C324.65,198.58 324.82,210.88 324.9,215 C324.98,219.12 324.83,218.13 325.1,220 C325.37,221.87 325.62,223.78 326.5,226.2 C327.38,228.62 328.88,231.73 330.4,234.5 C331.92,237.27 334.05,240.03 335.6,242.8 C337.15,245.57 338.85,248.85 339.7,251.1 C340.55,253.35 341.05,254.57 340.7,256.3 C340.35,258.03 339.3,259.6 337.6,261.5 C335.9,263.4 332.5,265.8 330.5,267.7 C328.5,269.6 326.58,271.52 325.6,272.9 C324.62,274.28 324.77,275.48 324.6,276" fill="none" stroke="#737373" stroke-width="0.9" stroke-linejoin="round"/>
<line x1="324.6" y1="195.3" x2="324.6" y2="283.3" stroke="#737373" stroke-width="0.9"/>
<line x1="324.6" y1="240.7" x2="324.6" y2="257.3" stroke="#6a6a6a" stroke-width="1.6"/>
<path d="M366.7,180 C366.62,187.72 366.6,215.88 366.2,226.3 C365.8,236.72 365.17,237.88 364.3,242.5 C363.43,247.12 362.08,251.28 361,254 C359.92,256.72 359.07,257.13 357.8,258.8 C356.53,260.47 354.48,261.93 353.4,264 C352.32,266.07 350.83,269.2 351.3,271.2 C351.77,273.2 354.17,274.52 356.2,276 C358.23,277.48 361.75,279.02 363.5,280.1 C365.25,281.18 366.17,282.1 366.7,282.5 L366.7,282.5 Z" fill="#abc9ea"/>
<path d="M366.7,180 C366.83,187.72 367.15,215.88 367.5,226.3 C367.85,236.72 368.47,238.55 368.8,242.5 C369.13,246.45 368.9,248.08 369.5,250 C370.1,251.92 371.28,252.53 372.4,254 C373.52,255.47 374.8,257.13 376.2,258.8 C377.6,260.47 379.58,261.93 380.8,264 C382.02,266.07 383.8,269.2 383.5,271.2 C383.2,273.2 381.12,274.52 379,276 C376.88,277.48 372.85,279.02 370.8,280.1 C368.75,281.18 367.38,282.1 366.7,282.5 L366.7,282.5 Z" fill="#efb792"/>
<path d="M366.7,180 C366.62,187.72 366.6,215.88 366.2,226.3 C365.8,236.72 365.17,237.88 364.3,242.5 C363.43,247.12 362.08,251.28 361,254 C359.92,256.72 359.07,257.13 357.8,258.8 C356.53,260.47 354.48,261.93 353.4,264 C352.32,266.07 350.83,269.2 351.3,271.2 C351.77,273.2 354.17,274.52 356.2,276 C358.23,277.48 361.75,279.02 363.5,280.1 C365.25,281.18 366.17,282.1 366.7,282.5 M366.7,180 C366.83,187.72 367.15,215.88 367.5,226.3 C367.85,236.72 368.47,238.55 368.8,242.5 C369.13,246.45 368.9,248.08 369.5,250 C370.1,251.92 371.28,252.53 372.4,254 C373.52,255.47 374.8,257.13 376.2,258.8 C377.6,260.47 379.58,261.93 380.8,264 C382.02,266.07 383.8,269.2 383.5,271.2 C383.2,273.2 381.12,274.52 379,276 C376.88,277.48 372.85,279.02 370.8,280.1 C368.75,281.18 367.38,282.1 366.7,282.5" fill="none" stroke="#737373" stroke-width="0.9" stroke-linejoin="round"/>
<line x1="366.7" y1="180" x2="366.7" y2="282.5" stroke="#737373" stroke-width="0.9"/>
<line x1="366.7" y1="257.5" x2="366.7" y2="277" stroke="#6a6a6a" stroke-width="1.6"/>
<rect x="306.3" y="174.8" width="78.5" height="19.1" fill="#fff" fill-opacity="0.85" stroke="#cfcfcf" stroke-width="0.9" rx="1.2"/>
<rect x="308.3" y="179.2" width="8.5" height="2.9" fill="#abc9ea"/>
<rect x="308.3" y="188.5" width="8.5" height="2.8" fill="#efb792"/>
<text x="319.79" y="181.8" font-size="8.3" fill="#3c3c3c" font-weight="normal" font-family='"Liberation Sans", sans-serif' textLength="47.45" lengthAdjust="spacingAndGlyphs">Coalescence</text>
<text x="319.52" y="191" font-size="8.3" fill="#3c3c3c" font-weight="normal" font-family='"Liberation Sans", sans-serif' textLength="63.44" lengthAdjust="spacingAndGlyphs">Non-coalescence</text>
</svg></body></html>
